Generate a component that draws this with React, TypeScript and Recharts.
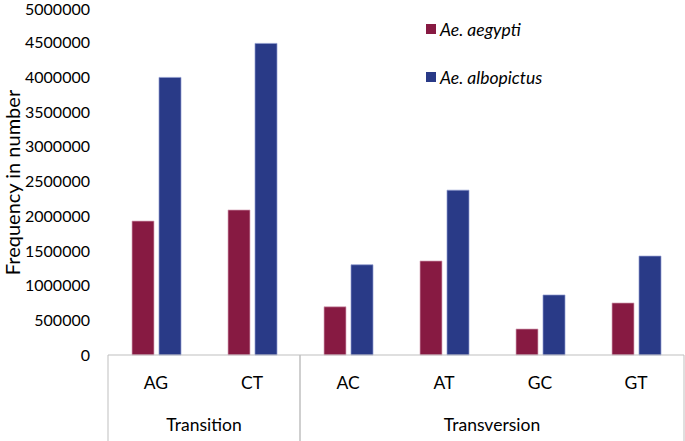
import React from 'react';
import { BarChart, Bar, XAxis, YAxis, Legend } from 'recharts';

const categories = ['AG', 'CT', 'AC', 'AT', 'GC', 'GT'];
const groups = ['Transition', 'Transition', 'Transversion', 'Transversion', 'Transversion', 'Transversion'];
const aegypti = [1930000, 2090000, 695000, 1355000, 375000, 750000];
const albopictus = [4000000, 4490000, 1300000, 2375000, 865000, 1425000];
const yTicks = [0, 500000, 1000000, 1500000, 2000000, 2500000, 3000000, 3500000, 4000000, 4500000, 5000000];

const data = categories.map((cat, i) => ({
  cat,
  group: groups[i],
  aegypti: aegypti[i],
  albopictus: albopictus[i],
}));

const WIDTH = 685;
const HEIGHT = 441;
const MARGIN = { top: 8, right: 1, bottom: 0, left: 0 };
const Y_WIDTH = 108;
const X_HEIGHT = 86;
const FONT = 'Lato, sans-serif';
const AXIS_GREY = '#bfbfbf';
const RED = '#871a42';
const BLUE = '#293a87';

const plotWidth = WIDTH - MARGIN.left - MARGIN.right - Y_WIDTH;
const band = plotWidth / categories.length;

const CategoryTick = (props: any) => {
  const { x, y, index } = props;
  const top = y - 8;
  const group = groups[index];
  const first = index === 0 || groups[index - 1] !== group;
  const last = index === groups.length - 1 || groups[index + 1] !== group;
  let count = 0;
  for (let i = 0; i < groups.length; i++) if (groups[i] === group) count++;
  return (
    <g>
      <text x={x} y={top + 34} textAnchor="middle" fill="#000" fontSize={17.5} fontFamily={FONT}>
        {payloadValue(props)}
      </text>
      {first && (
        <line x1={x - band / 2} x2={x - band / 2} y1={top} y2={HEIGHT} stroke={AXIS_GREY} strokeWidth={1} />
      )}
      {last && (
        <>
          <line x1={x + band / 2} x2={x + band / 2} y1={top} y2={HEIGHT} stroke={AXIS_GREY} strokeWidth={1} />
          <text
            x={x - ((count - 1) * band) / 2}
            y={top + 76}
            textAnchor="middle"
            fill="#000"
            fontSize={17.5}
            fontFamily={FONT}
          >
            {group}
          </text>
        </>
      )}
    </g>
  );
};

function payloadValue(props: any) {
  return props.payload ? props.payload.value : '';
}

const renderLegend = (props: any) => {
  const { payload } = props;
  return (
    <div style={{ fontFamily: FONT }}>
      {payload.map((entry: any, i: number) => (
        <div key={i} style={{ display: 'flex', alignItems: 'center', height: 24, marginBottom: i === 0 ? 24 : 0 }}>
          <span style={{ display: 'inline-block', width: 10, height: 10, background: entry.color, marginRight: 4 }} />
          <span style={{ fontStyle: 'italic', fontSize: 17.5, color: '#000' }}>{entry.value}</span>
        </div>
      ))}
    </div>
  );
};

const YTitle = (props: any) => {
  const vb = props.viewBox || { x: 0, y: 0, height: 0 };
  const cx = vb.x + 12;
  const cy = vb.y + vb.height / 2 + 1;
  return (
    <text
      x={cx}
      y={cy}
      transform={`rotate(-90 ${cx} ${cy})`}
      textAnchor="middle"
      dominantBaseline="central"
      fontSize={20}
      fontFamily={FONT}
      fill="#000"
    >
      Frequency in number
    </text>
  );
};

export default function App() {
  return (
    <div style={{ position: 'absolute', left: 0, top: 0, width: WIDTH, height: HEIGHT, background: '#fff' }}>
      <BarChart width={WIDTH} height={HEIGHT} data={data} margin={MARGIN} barSize={22} barGap={5}>
        <XAxis
          dataKey="cat"
          height={X_HEIGHT}
          axisLine={{ stroke: AXIS_GREY }}
          tickLine={false}
          tick={<CategoryTick />}
          interval={0}
        />
        <YAxis
          width={Y_WIDTH}
          domain={[0, 5000000]}
          ticks={yTicks}
          axisLine={false}
          tickLine={false}
          tickMargin={12}
          tick={{ fill: '#000', fontSize: 16, fontFamily: FONT }}
          label={<YTitle />}
        />
        <Legend
          layout="vertical"
          align="center"
          verticalAlign="middle"
          content={renderLegend}
          wrapperStyle={{ left: 426, top: 17, width: 200 }}
        />
        <Bar dataKey="aegypti" name="Ae. aegypti" fill={RED} stroke="#d9a9bb" strokeWidth={0.7} isAnimationActive={false} />
        <Bar dataKey="albopictus" name="Ae. albopictus" fill={BLUE} stroke="#8f9bd0" strokeWidth={0.7} isAnimationActive={false} />
      </BarChart>
    </div>
  );
}
